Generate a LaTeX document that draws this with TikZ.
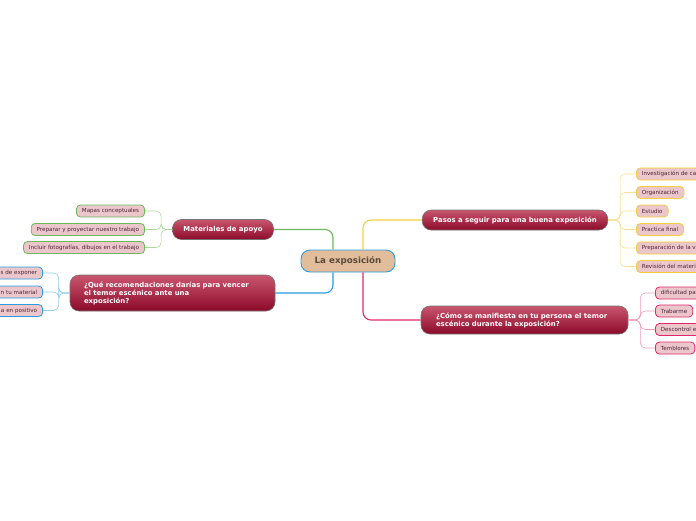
\documentclass[tikz,border=0pt]{standalone}
\usepackage{fontspec}
\setmainfont{DejaVu Sans}
\definecolor{topred}{HTML}{C9566E}
\definecolor{botred}{HTML}{8C0A2A}
\definecolor{leaffill}{HTML}{EBC7CC}
\definecolor{leaftext}{HTML}{4E2233}
\definecolor{mgreen}{HTML}{6DB85A}
\definecolor{lgreen}{HTML}{A9D898}
\definecolor{mblue}{HTML}{2A9BE0}
\definecolor{lblue}{HTML}{8FCCF0}
\definecolor{myellow}{HTML}{F3CF3A}
\definecolor{lyellow}{HTML}{F8E190}
\definecolor{mpink}{HTML}{E2286A}
\definecolor{lpink}{HTML}{F09CBA}
\definecolor{tan}{HTML}{E2BD9C}
\definecolor{centretext}{HTML}{5A4A3A}
\tikzset{
  central/.style={draw=mblue, line width=0.9pt, fill=tan, rounded corners=9pt,
    minimum width=94pt, minimum height=22pt, text=centretext,
    font=\bfseries\fontsize{8.7}{10}\selectfont},
  topic/.style={draw=black!55, line width=0.6pt, top color=topred, bottom color=botred,
    rounded corners=9pt, minimum height=20pt, inner xsep=11pt, text=white,
    font=\bfseries\fontsize{6.9}{8}\selectfont},
  leaf/.style={draw=#1, line width=0.8pt, fill=leaffill, rounded corners=4pt,
    minimum height=12pt, inner xsep=5.5pt, inner ysep=1pt, text=leaftext,
    font=\fontsize{5.6}{6.5}\selectfont},
  branch/.style={draw=#1, line width=1.1pt, rounded corners=8pt},
  twig/.style={draw=#1, line width=0.6pt, rounded corners=5pt}
}
\begin{document}
\begin{tikzpicture}[x=1pt,y=-1pt]
\useasboundingbox (0,0) rectangle (696,520);
\clip (0,0) rectangle (696,520);

% main topics
\node[central] (expo) at (348,261) {La exposición};
\node[topic] (mat) at (223,229.5) {Materiales de apoyo};
\node[topic, align=left, text width=177pt, inner xsep=14pt, minimum height=36pt]
  (rec) at (172.5,293) {¿Qué recomendaciones darías para vencer\\el temor escénico ante una\\exposición?};
\node[topic] (pasos) at (515,220) {Pasos a seguir para una buena exposición};
\node[topic, align=left, text width=177pt, inner xsep=15pt, minimum height=28pt]
  (como) at (524.5,320) {¿Cómo se manifiesta en tu persona el temor\\escénico durante la exposición?};

% branches from the centre
\draw[branch=mgreen] ([xshift=-15pt]expo.north) |- (mat.east);
\draw[branch=mblue] ([xshift=-15pt]expo.south) |- (rec.east);
\draw[branch=myellow] ([xshift=15pt]expo.north) |- (pasos.west);
\draw[branch=mpink] ([xshift=15pt]expo.south) |- (como.west);

% Materiales de apoyo
\foreach \t/\y [count=\i] in {Mapas conceptuales/211,
    Preparar y proyectar nuestro trabajo/229.5,
    {Incluir fotografías, dibujos en el trabajo}/247.5}{
  \node[leaf=mgreen, anchor=east] (m\i) at (145,\y) {\t};
  \draw[twig=lgreen] (mat.west) -- ++(-11,0) |- (m\i.east);
}

% recomendaciones (cut at the left edge)
\foreach \t/\y [count=\i] in {s de exponer/273, n tu material/292,
    a en positivo/310.5}{
  \node[leaf=mblue, anchor=east, text width=50pt, align=right] (r\i) at (43,\y) {\t};
  \draw[twig=lblue] (rec.west) -- ++(-11,0) |- (r\i.east);
}

% pasos (cut at the right edge)
\foreach \t/\y [count=\i] in {Investigación de ca/174, Organización/192.5,
    Estudio/211, Practica final/229.5, Preparación de la v/248,
    Revisión del materi/266.5}{
  \node[leaf=myellow, anchor=west] (p\i) at (636,\y) {\t};
  \draw[twig=lyellow] (pasos.east) -- ++(12,0) |- (p\i.west);
}

% temor escenico
\foreach \t/\y [count=\i] in {dificultad pa/293, Trabarme/311,
    Descontrol e/329.5, Temblores/348}{
  \node[leaf=mpink, anchor=west] (c\i) at (655,\y) {\t};
  \draw[twig=lpink] (como.east) -- ++(12,0) |- (c\i.west);
}
\end{tikzpicture}
\end{document}
